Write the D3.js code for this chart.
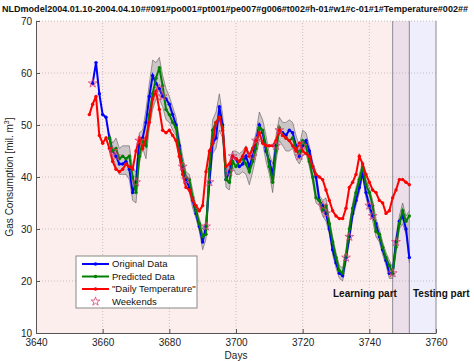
<!DOCTYPE html>
<html>
<head>
<meta charset="utf-8">
<script src="https://cdn.jsdelivr.net/npm/d3@7"></script>
<style>
body { margin: 0; background: #fff; }
svg { display: block; font-family: "Liberation Sans", Arial, sans-serif; }
</style>
</head>
<body>
<svg id="chart" width="474" height="361"></svg>
<script>
const titleText = "NLDmodel2004.01.10-2004.04.10##091#po001#pt001#pe007#g006#t002#h-01#w1#c-01#1#Temperature#002##"
const xTicks = [3640, 3660, 3680, 3700, 3720, 3740, 3760]
const yTicks = [10, 20, 30, 40, 50, 60, 70]

// first day of each series
const originalStart = 3657
const predictedStart = 3662
const temperatureStart = 3656

const original = [
  58, 62, 56, 52, 51.5, 47.5, 45, 44, 42.5, 42.5,
  43, 41.5, 37, 39, 47, 47.5, 50.5, 55.5, 59.5, 58,
  57, 55.5, 55, 54, 52, 50, 46, 42, 39.5, 38,
  35.5, 33, 30.5, 27.5, 30.5, 39, 46.5, 47.5, 53.5, 50,
  39.5, 41, 44, 43.5, 42, 42.5, 44, 42, 44, 47,
  50, 48.5, 45, 43, 40.5, 46, 49, 48.5, 48, 49,
  48.5, 46, 44, 46, 47, 45, 42, 40, 35.5, 34.5,
  33, 30, 26, 23.5, 21.5, 21, 24.5, 28.5, 33, 35.5,
  38, 41, 37, 34.5, 32.5, 31, 28.5, 26, 24, 21.5,
  21.5, 27.5, 31.5, 32.5, 30, 24.5
]

const predicted = [
  47.5, 45, 45.5, 43.5, 44, 43.5, 44, 40, 37, 44,
  47, 46, 52, 56, 59, 61, 57.5, 53, 52, 50.5,
  49.5, 45, 42.5, 40, 39.5, 36, 33.5, 31, 28.5, 29,
  41.5, 49, 50.5, 51.5, 49.5, 39.5, 39, 43, 42, 43,
  43.5, 42.5, 41, 43, 45.5, 49.5, 49, 46, 42, 39,
  45, 49.5, 48, 47.5, 47, 47.5, 45.5, 44.5, 47, 46,
  43, 40, 36, 35.5, 33.5, 34.5, 31, 27.5, 24.5, 22,
  21.5, 25, 30, 34, 37, 39.5, 42, 38.5, 37, 34.5,
  29.5, 29, 26.5, 24.5, 23, 21.5, 26.5, 31, 33.5, 31.5, 32.5
]

const temperature = [
  52, 54, 55.5, 48, 46.5, 47.5, 45.5, 43, 41.5, 41,
  41.5, 42.5, 42, 41.5, 45, 47.5, 45.5, 47.5, 50.5, 55,
  56.5, 53, 49, 48.5, 49, 48, 47, 44, 40.5, 38,
  37.5, 35.5, 34.5, 33.5, 34.5, 41, 45, 46.5, 50.5, 51.5,
  49, 42, 42.5, 44, 43.5, 43, 44, 45.5, 44, 45.5,
  47, 48.5, 46.5, 46, 46, 46, 47, 49, 48, 47.5,
  47, 46, 45, 46.5, 45, 44.5, 44, 42, 40.5, 40,
  39.5, 37.5, 35.5, 33.5, 32.5, 32, 32, 34, 38, 39,
  40.5, 44, 42.5, 40.5, 39, 37.5, 37, 35.5, 35, 33,
  33.5, 36, 37.5, 39.5, 39.5, 39, 38.5
]

// half width of the grey prediction envelope, per predicted day
const bandWidth = [
  1, 1.5, 2, 2, 2, 2.5, 2, 1.5, 2, 1.5,
  1.5, 2.5, 2.5, 3, 3, 2, 2, 2, 1.5, 1.5,
  1.5, 1.5, 1.5, 1, 1, 1.5, 1, 1, 1.5, 1,
  1.5, 2, 2, 2.5, 2, 1.5, 1.5, 1, 1.5, 1.5,
  1.5, 2, 2.5, 2, 1.5, 2.5, 2, 2, 1.5, 2,
  2, 2, 2, 2.5, 2, 2, 2, 1.5, 2, 1.5,
  1, 1, 1, 1, 1, 1.5, 1, 1, 1, 1,
  1, 1, 1, 1, 1, 1, 1, 1, 1, 1,
  1, 1, 1, 1, 1, 1, 1, 1, 1.5, 1, 1
]

const weekendDays = [3657, 3663, 3664, 3670, 3671, 3677, 3678, 3684, 3685, 3691, 3692,
  3698, 3699, 3705, 3706, 3712, 3713, 3719, 3720, 3726, 3727, 3733, 3734,
  3740, 3741, 3747, 3748]

const learningSpan = [3640, 3752]
const testingSpan = [3747, 3760]

const seriesNames = ["Original Data", "Predicted Data", "\"Daily Temperature\"", "Weekends"]

const svg = d3.select("#chart")
const x = d3.scaleLinear().domain([3640, 3760]).range([36, 436])
const y = d3.scaleLinear().domain([10, 70]).range([333, 21])

const toPoints = (arr, start) => arr.map((v, i) => ({ day: start + i, v }))
const origPts = toPoints(original, originalStart)
const predPts = toPoints(predicted, predictedStart)
const tempPts = toPoints(temperature, temperatureStart)
const origByDay = new Map(origPts.map(d => [d.day, d.v]))

// regions
svg.append("rect")
  .attr("x", x(learningSpan[0])).attr("y", y(70))
  .attr("width", x(testingSpan[0]) - x(learningSpan[0]))
  .attr("height", y(10) - y(70))
  .attr("fill", "#fdeeee")
svg.append("rect")
  .attr("x", x(testingSpan[0])).attr("y", y(70))
  .attr("width", x(learningSpan[1]) - x(testingSpan[0]))
  .attr("height", y(10) - y(70))
  .attr("fill", "#ecdfe9")
svg.append("rect")
  .attr("x", x(learningSpan[1])).attr("y", y(70))
  .attr("width", x(testingSpan[1]) - x(learningSpan[1]))
  .attr("height", y(10) - y(70))
  .attr("fill", "#eeeefc")

// grid
svg.append("g").selectAll("line").data(xTicks.slice(1, -1)).enter().append("line")
  .attr("x1", d => x(d)).attr("x2", d => x(d))
  .attr("y1", y(10)).attr("y2", y(70))
  .attr("stroke", "#b8b0b0").attr("stroke-width", 0.8).attr("stroke-dasharray", "1,2")
svg.append("g").selectAll("line").data(yTicks.slice(1)).enter().append("line")
  .attr("x1", x(3640)).attr("x2", x(3760))
  .attr("y1", d => y(d)).attr("y2", d => y(d))
  .attr("stroke", "#b8b0b0").attr("stroke-width", 0.8).attr("stroke-dasharray", "1,2")

// region borders
svg.append("g").selectAll("line").data([testingSpan[0], learningSpan[1], testingSpan[1]]).enter().append("line")
  .attr("x1", d => x(d)).attr("x2", d => x(d))
  .attr("y1", y(10)).attr("y2", y(70))
  .attr("stroke", "#8a8a92").attr("stroke-width", 1)

// grey envelope
const band = predPts.map((d, i) => {
  const o = origByDay.get(d.day)
  const lo = Math.min(d.v, o) - bandWidth[i]
  const hi = Math.max(d.v, o) + bandWidth[i]
  return { day: d.day, lo, hi }
})
svg.append("path").datum(band)
  .attr("d", d3.area().x(d => x(d.day)).y0(d => y(d.lo)).y1(d => y(d.hi)))
  .attr("fill", "#b8b4b8").attr("fill-opacity", 0.7)
svg.append("path").datum(band)
  .attr("d", d3.line().x(d => x(d.day)).y(d => y(d.hi)))
  .attr("fill", "none").attr("stroke", "#444").attr("stroke-width", 0.5)
svg.append("path").datum(band)
  .attr("d", d3.line().x(d => x(d.day)).y(d => y(d.lo)))
  .attr("fill", "none").attr("stroke", "#444").attr("stroke-width", 0.5)

const line = d3.line().x(d => x(d.day)).y(d => y(d.v))
const colors = ["#0000ff", "#008000", "#ff0000"]

function drawSeries(pts, color) {
  svg.append("path").datum(pts)
    .attr("d", line)
    .attr("fill", "none").attr("stroke", color).attr("stroke-width", 2)
  svg.append("g").selectAll("circle").data(pts).enter().append("circle")
    .attr("cx", d => x(d.day)).attr("cy", d => y(d.v)).attr("r", 1.7)
    .attr("fill", color)
}
drawSeries(origPts, colors[0])
drawSeries(predPts, colors[1])
drawSeries(tempPts, colors[2])

// weekends
const star = d3.symbol().type(d3.symbolStar).size(24)
svg.append("g").selectAll("path").data(weekendDays).enter().append("path")
  .attr("d", star)
  .attr("transform", d => `translate(${x(d)},${y(origByDay.get(d))})`)
  .attr("fill", "none").attr("stroke", "#d8407a").attr("stroke-width", 0.8)

// axes
const xAxis = svg.append("g").attr("transform", `translate(0,${y(10)})`)
  .call(d3.axisBottom(x).tickValues(xTicks).tickSizeInner(-4).tickSizeOuter(0).tickPadding(6).tickFormat(d3.format("d")))
const yAxis = svg.append("g").attr("transform", `translate(${x(3640)},0)`)
  .call(d3.axisLeft(y).tickValues(yTicks).tickSizeInner(-4).tickSizeOuter(0).tickPadding(4))
for (const a of [xAxis, yAxis]) {
  a.selectAll("path, line").attr("stroke", "#555")
  a.selectAll("text").attr("font-size", 10).attr("fill", "#222").attr("font-family", "\"Liberation Sans\", Arial, sans-serif")
}

// titles
svg.append("text").attr("x", 2).attr("y", 12)
  .attr("font-size", 9.6).attr("font-weight", "bold").attr("fill", "#111")
  .attr("textLength", 466).attr("lengthAdjust", "spacingAndGlyphs")
  .text(titleText)
svg.append("text").attr("x", 236).attr("y", 359).attr("text-anchor", "middle")
  .attr("font-size", 10).attr("fill", "#222").text("Days")
const yl = svg.append("text").attr("transform", "translate(13,177) rotate(-90)")
  .attr("text-anchor", "middle").attr("font-size", 10).attr("fill", "#222")
yl.append("tspan").text("Gas Consumption [mil. m")
yl.append("tspan").attr("dy", -4).attr("font-size", 7).text("3")
yl.append("tspan").attr("dy", 4).text("]")

svg.append("text").attr("x", 333).attr("y", 297)
  .attr("font-size", 10).attr("font-weight", "bold").attr("fill", "#111").text("Learning part")
svg.append("text").attr("x", 413).attr("y", 297)
  .attr("font-size", 10).attr("font-weight", "bold").attr("fill", "#111").text("Testing part")

// legend
const lg = svg.append("g").attr("transform", "translate(76,256)")
lg.append("rect").attr("width", 121).attr("height", 52)
  .attr("fill", "#fff").attr("stroke", "#888").attr("stroke-width", 1)
const rows = lg.selectAll("g.row").data(seriesNames).enter().append("g")
  .attr("class", "row").attr("transform", (d, i) => `translate(0,${8 + i * 12.5})`)
rows.filter((d, i) => i < 3).append("line")
  .attr("x1", 6).attr("x2", 33).attr("stroke", (d, i) => colors[i]).attr("stroke-width", 2)
rows.filter((d, i) => i < 3).append("circle")
  .attr("cx", 19.5).attr("r", 1.8).attr("fill", (d, i) => colors[i])
rows.filter((d, i) => i === 3).append("path")
  .attr("d", star).attr("transform", "translate(19.5,0)")
  .attr("fill", "none").attr("stroke", "#d8407a").attr("stroke-width", 0.8)
rows.append("text").attr("x", 36).attr("dy", "0.35em")
  .attr("font-size", 9.5).attr("fill", "#111").text(d => d)
</script>
</body>
</html>
